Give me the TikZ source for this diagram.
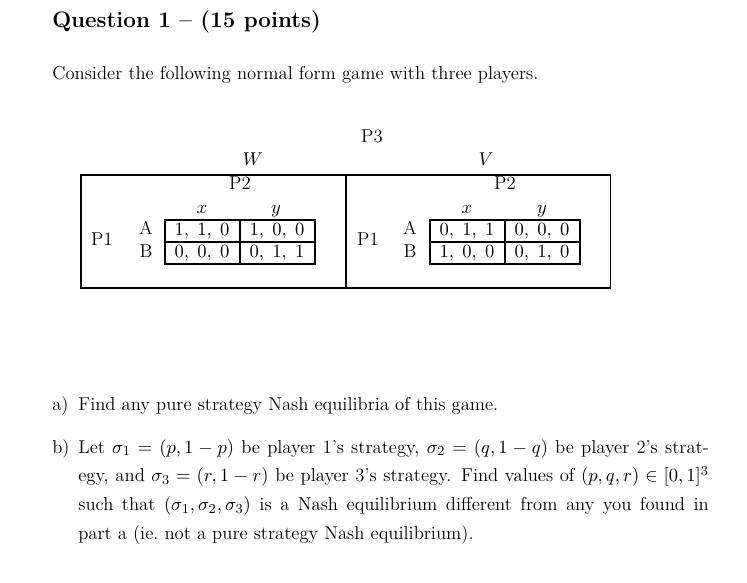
\documentclass[tikz,border=0pt]{standalone}
\usepackage{amsmath}
\begin{document}
\begin{tikzpicture}[x=0.59pt,y=-0.59pt,
  every node/.style={font=\fontsize{11}{13}\selectfont},
  lbl/.style={inner sep=0pt,anchor=base},
  cell/.style={inner sep=0pt,anchor=base},
  box/.style={draw,line width=0.6pt}]
\useasboundingbox (0,0) rectangle (747,583);
\node[lbl,anchor=base west,font=\fontsize{13.2}{15}\selectfont\bfseries] (q) at (52,28) {Question 1 -- (15 points)};
\node[lbl,anchor=base west] (c) at (52,80) {Consider the following normal form game with three players.};
\node[lbl] (p3) at (372,143) {P3};
\node[lbl] (w) at (253,166) {$W$};
\node[lbl] (v) at (486,166) {$V$};
\draw[box] (81,175) rectangle (346,288);
\draw[box] (346,175) rectangle (610,288);
% left game
\node[lbl] (p2a) at (240,190) {P2};
\node[lbl] (xa) at (202,214) {$x$};
\node[lbl] (ya) at (276,214) {$y$};
\node[lbl] (p1a) at (102,246) {P1};
\node[lbl] (aa) at (146,235) {A};
\node[lbl] (ba) at (146,258) {B};
\draw[box] (165,220) rectangle (315,264);
\draw[box] (240,220) -- (240,264) (165,242) -- (315,242);
\node[cell] at (202,236) {$1,\;1,\;0$};
\node[cell] at (277,236) {$1,\;0,\;0$};
\node[cell] at (202,258) {$0,\;0,\;0$};
\node[cell] at (277,258) {$0,\;1,\;1$};
% right game
\node[lbl] (p2b) at (505,190) {P2};
\node[lbl] (xb) at (467,214) {$x$};
\node[lbl] (yb) at (542,214) {$y$};
\node[lbl] (p1b) at (368,246) {P1};
\node[lbl] (ab) at (410,235) {A};
\node[lbl] (bb) at (410,258) {B};
\draw[box] (430,220) rectangle (580,264);
\draw[box] (505,220) -- (505,264) (430,242) -- (580,242);
\node[cell] at (467,236) {$0,\;1,\;1$};
\node[cell] at (542,236) {$0,\;0,\;0$};
\node[cell] at (467,258) {$1,\;0,\;0$};
\node[cell] at (542,258) {$0,\;1,\;0$};
% questions
\node[lbl,anchor=base west] (qa) at (52,410) {a)};
\node[lbl,anchor=base west] (ta) at (78,410) {Find any pure strategy Nash equilibria of this game.};
\node[lbl,anchor=base west] (qb) at (52,453) {b)};
\node[inner sep=0pt,anchor=base west,text width=372pt,align=justify] (tb) at (78,453)
{\baselineskip=17pt Let $\sigma_1=(p,1-p)$ be player 1's strategy, $\sigma_2=(q,1-q)$ be player 2's strat-\linebreak
egy, and $\sigma_3=(r,1-r)$ be player 3's strategy. Find values of $(p,q,r)\in[0,1]^3$\linebreak
such that $(\sigma_1,\sigma_2,\sigma_3)$ is a Nash equilibrium different from any you found in\linebreak
part a (ie.\ not a pure strategy Nash equilibrium).\par};
\end{tikzpicture}
\end{document}
